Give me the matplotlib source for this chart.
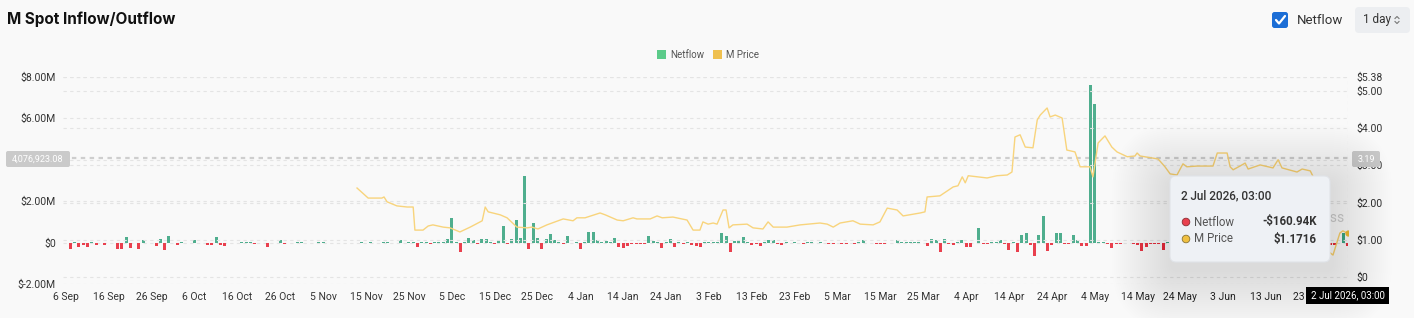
import datetime as dt
import matplotlib
matplotlib.use("Agg")
import matplotlib.pyplot as plt
import matplotlib.dates as mdates
from matplotlib.patches import FancyBboxPatch, Rectangle, Circle
from matplotlib.ticker import FuncFormatter, FixedLocator

# daily netflow in $M, 6 Sep 2025 -> 2 Jul 2026
start = dt.date(2025, 9, 6)
netflow = [
    0.0, -0.3, 0.05, -0.2, -0.1, -0.2, 0.05, -0.1, 0.0, -0.1,
    0.0, 0.0, -0.3, -0.3, 0.25, -0.25, 0.0, -0.3, 0.1, 0.0,
    -0.03, -0.15, 0.15, -0.35, 0.3, 0.0, -0.1, 0.03, 0.0, 0.0,
    0.1, -0.03, 0.0, -0.1, -0.1, 0.25, -0.1, -0.15, 0.0, 0.0,
    -0.03, 0.03, 0.02, 0.02, -0.05, 0.0, 0.0, -0.2, 0.0, 0.0,
    0.1, -0.05, 0.0, 0.0, 0.02, 0.02, 0.0, -0.02, 0.0, 0.05,
    0.02, 0.0, 0.0, 0.0, 0.0, 0.0, 0.0, 0.0, 0.0, 0.02,
    0.0, 0.02, 0.0, 0.0, 0.03, 0.03, 0.0, 0.0, 0.11, 0.0,
    0.02, 0.05, -0.2, 0.05, 0.05, -0.05, 0.02, 0.02, 0.02, 0.16,
    1.18, 0.02, -0.45, 0.02, 0.23, 0.1, -0.05, 0.16, 0.16, 0.05,
    -0.05, 0.08, 0.79, -0.05, 0.18, 1.10, 0.21, 3.2, -0.32, 0.95,
    0.24, -0.3, 0.18, 0.4, 0.13, 0.02, -0.08, 0.32, -0.03, 0.02,
    -0.29, 0.03, 0.53, 0.53, 0.13, 0.05, 0.08, 0.02, 0.24, -0.2,
    -0.25, -0.15, -0.08, -0.08, -0.08, -0.08, 0.32, 0.08, 0.05, -0.24,
    0.02, 0.19, -0.21, 0.02, -0.05, 0.02, -0.1, -0.15, -0.2, 0.05,
    0.05, 0.05, 0.02, 0.48, 0.32, -0.45, 0.08, 0.1, 0.27, 0.05,
    -0.1, -0.08, -0.15, 0.05, 0.1, 0.1, -0.05, -0.12, 0.02, -0.02,
    0.02, 0.0, -0.05, 0.05, 0.05, 0.0, 0.03, 0.0, -0.05, -0.05,
    -0.03, -0.05, -0.05, -0.03, -0.08, 0.03, 0.1, 0.0, 0.0, -0.05,
    -0.05, -0.05, 0.0, 0.0, 0.13, 0.02, 0.05, 0.05, 0.05, 0.05,
    0.0, -0.18, 0.16, 0.13, -0.48, 0.16, -0.08, -0.1, 0.03, 0.1,
    -0.2, -0.2, 0.0, 0.68, -0.08, -0.05, 0.02, 0.02, 0.1, -0.08,
    -0.37, 0.02, -0.45, 0.35, 0.48, -0.1, -0.65, 0.35, 1.26, -0.4,
    -0.1, 0.45, 0.48, -0.08, -0.05, 0.35, 0.13, -0.15, -0.18, 7.6,
    6.7, 0.02, 0.03, -0.05, -0.27, -0.05, -0.05, -0.03, -0.03, -0.05,
    -0.1, -0.4, -0.2, -0.05, -0.05, -0.05, -0.35, 0.02,
    -0.1, -0.05, 0.08, -0.15, -0.05, 0.1, -0.2, -0.05, -0.08, 0.05,
    -0.1, -0.05, 0.15, -0.1, -0.2, -0.05, 0.05, -0.08, -0.1, 0.02,
    -0.05, -0.3, -0.1, 0.1, -0.05, -0.05, -0.15, -0.05, 0.05, -0.1,
    -0.2, -0.05, -0.1, 0.03, -0.05, -0.08, -0.1,
    -0.1, -0.1, -0.02, 0.45, -0.16094,
]

# M price: day offset from 6 Sep, price in $
price_days = [
    67.9, 70.5, 73.7, 74.2, 74.9, 77.2, 79.6, 81.0, 81.4, 83.3, 84.5, 85.6,
    88.0, 89.6, 91.9, 94.3, 97.1, 97.8, 98.5, 101.3, 102.9, 105.2, 107.6,
    108.7, 110.1, 112.2, 116.0, 118.3, 119.2, 121.1, 124.6, 125.8, 128.6,
    130.0, 132.3, 133.2, 136.3, 137.9, 139.1, 141.6, 144.9, 146.3, 147.9,
    148.6, 149.8, 151.0, 151.9, 153.3, 154.0, 154.7, 155.6, 158.9, 160.3,
    162.6, 163.8, 165.0, 168.2, 171.3, 175.9, 177.6, 179.0, 180.6, 183.6,
    185.3, 188.3, 189.9, 191.6, 193.9, 195.3, 199.3, 200.4, 200.9, 203.9,
    207.0, 208.1, 209.1, 209.8, 210.5, 214.9, 217.2, 219.6, 220.7, 221.4,
    222.6, 223.8, 225.6, 226.6, 227.3, 228.9, 229.6, 230.8, 232.4, 233.5,
    235.4, 236.6, 238.9, 239.6, 240.8, 242.4, 244.0, 245.2, 247.6, 249.4,
    249.9, 250.6, 254.8, 256.4, 257.6, 259.2, 260.6, 261.5, 263.9, 267.6,
    268.6, 270.9, 271.6, 272.3, 273.9, 275.1, 275.8, 278.6, 281.6, 282.8,
    283.7, 287.2, 288.4, 290.3, 290.9, 292.5, 293.8, 294.7, 295.6, 297.2,
    297.9, 299.0,
]
price_vals = [
    2.39, 2.12, 2.12, 2.15, 2.02, 1.91, 1.88, 1.88, 1.26, 1.26, 1.37, 1.40,
    1.34, 1.32, 1.21, 1.34, 1.51, 1.88, 1.75, 1.67, 1.59, 1.34, 1.32,
    1.34, 1.29, 1.40, 1.56, 1.51, 1.59, 1.59, 1.72, 1.67, 1.53,
    1.51, 1.59, 1.56, 1.56, 1.64, 1.59, 1.61, 1.53, 1.26, 1.26,
    1.48, 1.42, 1.45, 1.42, 1.80, 1.80, 1.32, 1.40, 1.42, 1.32,
    1.29, 1.48, 1.34, 1.34, 1.40, 1.45, 1.42, 1.34, 1.45, 1.51,
    1.42, 1.40, 1.48, 1.85, 1.80, 1.64, 1.72, 1.75, 2.15, 2.18,
    2.42, 2.45, 2.69, 2.53, 2.72, 2.66, 2.72, 2.74, 2.82, 3.76,
    3.82, 3.49, 3.47, 4.22, 4.35, 4.54, 4.30, 4.35, 4.27, 3.41,
    3.36, 2.96, 2.96, 2.69, 3.60, 3.79, 3.49, 3.36, 3.23, 3.25,
    3.33, 3.25, 3.17, 2.96, 2.77, 2.74, 3.04, 2.96, 2.98, 2.98,
    3.33, 3.33, 2.96, 2.88, 2.98, 3.06, 2.90, 3.01, 2.93, 3.15,
    2.93, 2.82, 2.90, 2.85, 2.71, 2.10, 1.20, 0.67, 0.59, 1.18,
    1.24, 1.1716,
]

assert len(netflow) == 300

W, H = 1414, 318
plt.rcParams['font.family'] = ['Roboto', 'DejaVu Sans']
fig = plt.figure(figsize=(W / 100, H / 100), dpi=100, facecolor='#f9f9f9')

base = mdates.date2num(start)
days = list(range(len(netflow)))
xs = [base + d for d in days]
vals = [v * 1e6 for v in netflow]
colors = ['#4fae8e' if v >= 0 else '#e9404e' for v in netflow]

ax = fig.add_axes([63 / W, 34 / H, 1285 / W, 207.3 / H])
ax.set_facecolor('none')
ax.bar(xs, vals, width=0.7, color=colors, zorder=3)
ax.set_xlim(base - 0.7, base + 299.1)
ax.set_ylim(-2e6, 8e6)
ax.yaxis.set_major_locator(FixedLocator([-2e6, 0, 2e6, 4e6, 6e6, 8e6]))
ax.yaxis.set_major_formatter(FuncFormatter(
    lambda v, p: '$0' if v == 0 else f'${v / 1e6:.2f}M'))
tick_days = list(range(0, 291, 10))
ax.xaxis.set_major_locator(FixedLocator([base + d for d in tick_days]))
def fmt_date(v, p):
    d = mdates.num2date(v)
    return f'{d.day} {d.strftime("%b")}'
ax.xaxis.set_major_formatter(FuncFormatter(fmt_date))
ax.tick_params(axis='both', length=0, labelsize=7.5, colors='#333333')
ax.tick_params(axis='x', pad=6)
ax.tick_params(axis='y', pad=5)
ax.grid(axis='y', color='#e4e4e4', linestyle=(0, (3, 3)), linewidth=0.8, zorder=0)
for s in ax.spines.values():
    s.set_visible(False)
# crosshair
ax.axhline(4076923.08, color='#cecece', linestyle=(0, (2, 2)), linewidth=1.6, zorder=2)
ax.axvline(base + 299.0, color='#d8d8d8', linestyle=(0, (3, 3)), linewidth=0.8, zorder=2)

ax2 = ax.twinx()
ax2.set_ylim(-0.188, 5.38)
ax2.plot([base + d for d in price_days], price_vals, color='#f8d47c', linewidth=1.0, zorder=4)
ax2.plot([base + price_days[-1]], [price_vals[-1]], 'o', ms=3.5, color='#f0c040', zorder=5)
ax2.yaxis.set_major_locator(FixedLocator([0, 1, 2, 3, 4, 5, 5.38]))
ax2.yaxis.set_major_formatter(FuncFormatter(
    lambda v, p: '$0' if v == 0 else f'${v:.2f}'))
ax2.tick_params(axis='y', length=0, labelsize=7.5, colors='#333333', pad=6)
ax2.grid(axis='y', color='#e4e4e4', linestyle=(0, (3, 3)), linewidth=0.8)
for s in ax2.spines.values():
    s.set_visible(False)

# overlay in pixel coordinates for page elements
ui = fig.add_axes([0, 0, 1, 1])
ui.set_zorder(10)
ui.set_xlim(0, W)
ui.set_ylim(H, 0)
ui.axis('off')
ui.patch.set_alpha(0)

ui.text(7, 19, 'M Spot Inflow/Outflow', fontsize=11, fontweight='bold',
        color='#111111', va='center', family=['Inter', 'DejaVu Sans'])

# netflow checkbox + interval selector
ui.add_patch(FancyBboxPatch((1272, 12), 16, 16, boxstyle='round,pad=0,rounding_size=2.5',
                            fc='#1c6ed6', ec='none'))
ui.plot([1276, 1279, 1285], [20, 23.5, 16], color='white', lw=1.6, solid_capstyle='round')
ui.text(1297, 20, 'Netflow', fontsize=9.5, color='#333333', va='center')
ui.add_patch(FancyBboxPatch((1355, 7), 55, 26, boxstyle='round,pad=0,rounding_size=4',
                            fc='#eceef1', ec='none'))
ui.text(1363, 20, '1 day', fontsize=8.5, color='#333333', va='center')
ui.plot([1395, 1397, 1399], [18.5, 16.5, 18.5], color='#777777', lw=0.8)
ui.plot([1395, 1397, 1399], [21.5, 23.5, 21.5], color='#777777', lw=0.8)

# legend
ui.add_patch(Rectangle((657, 50), 9, 9, fc='#5ccb8a', ec='none'))
ui.text(670, 55, 'Netflow', fontsize=7, color='#555555', va='center')
ui.add_patch(Rectangle((713, 50), 9, 9, fc='#efc04f', ec='none'))
ui.text(726, 55, 'M Price', fontsize=7, color='#555555', va='center')

# crosshair labels
ui.add_patch(FancyBboxPatch((6, 151), 64, 16, boxstyle='round,pad=0,rounding_size=2',
                            fc='#cacaca', ec='none'))
ui.text(38, 159, '4,076,923.08', fontsize=6.5, color='white', ha='center', va='center')
ui.add_patch(FancyBboxPatch((1352, 151), 28, 16, boxstyle='round,pad=0,rounding_size=2',
                            fc='#cacaca', ec='none'))
ui.text(1366, 159, '3.19', fontsize=6.5, color='white', ha='center', va='center')
ui.add_patch(Rectangle((1306, 287), 83, 17, fc='black', ec='none'))
ui.text(1347.5, 295.5, '2 Jul 2026, 03:00', fontsize=7, color='white', ha='center', va='center')

# watermark partly behind tooltip
ui.text(1345, 218, 'coinglass', fontsize=10, color='#cfcfcf', ha='right', va='center', zorder=1)

# tooltip soft shadow and box
for i in range(30):
    g = 2 * (30 - i)
    ui.add_patch(FancyBboxPatch((1172 - g, 184 - g), 160 + 2 * g, 86 + 2 * g,
                                boxstyle='round,pad=0,rounding_size=%d' % (6 + g),
                                fc='black', ec='none', alpha=0.0032, zorder=2))
ui.add_patch(FancyBboxPatch((1170, 176), 160, 86, boxstyle='round,pad=0,rounding_size=6',
                            fc='#eef1f5', ec='#e0e3e8', lw=0.8, zorder=3))
ui.text(1181, 196, '2 Jul 2026, 03:00', fontsize=8.5, color='#333333', va='center',
        fontweight='medium', zorder=4)
ui.add_patch(Circle((1186, 222), 3.8, fc='#e9404e', ec='#8d2c33', lw=0.6, zorder=4))
ui.text(1194, 222, 'Netflow', fontsize=8.3, color='#555555', va='center', zorder=4)
ui.text(1317, 222, '-$160.94K', fontsize=8.3, color='#333333', va='center', ha='right',
        fontweight='bold', zorder=4)
ui.add_patch(Circle((1186, 239), 3.8, fc='#f0c040', ec='#8a7433', lw=0.6, zorder=4))
ui.text(1194, 239, 'M Price', fontsize=8.3, color='#555555', va='center', zorder=4)
ui.text(1317, 239, '$1.1716', fontsize=8.3, color='#333333', va='center', ha='right',
        fontweight='bold', zorder=4)

fig.savefig('out.png', dpi=100, facecolor=fig.get_facecolor())
